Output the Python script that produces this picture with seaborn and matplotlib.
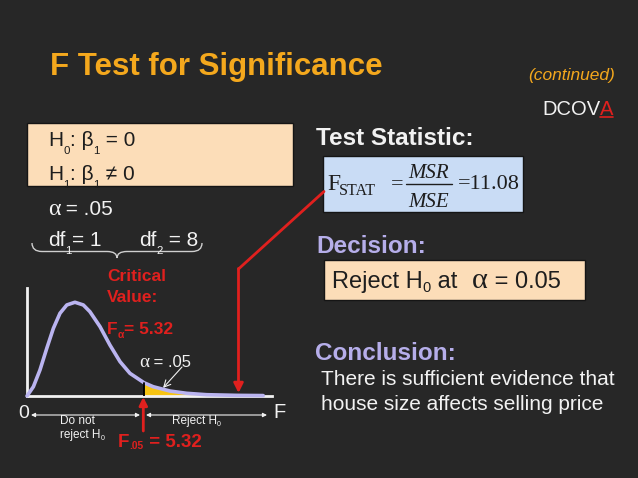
import numpy as np
import matplotlib
matplotlib.use('Agg')
import matplotlib.pyplot as plt
from matplotlib.patches import Rectangle, PathPatch
from matplotlib.path import Path
import seaborn as sns
import pandas as pd

# ---------------- data ----------------
curve_x = [0.0, 0.29, 0.59, 0.90, 1.20, 1.50, 1.81, 2.18, 2.56, 2.86, 3.32,
           3.77, 4.23, 4.68, 5.32, 5.74, 6.50, 7.26, 8.17, 9.53, 10.74]
curve_y = [0.0, 0.086, 0.241, 0.442, 0.627, 0.766, 0.843, 0.868, 0.843, 0.781, 0.642,
           0.472, 0.318, 0.210, 0.123, 0.086, 0.046, 0.025, 0.012, 0.006, 0.004]
f_crit = 5.32
alpha = 0.05
f_stat = 11.08
df1, df2 = 1, 8
x_max = 11.14

# ---------------- style ----------------
bg = '#272727'
orange = '#F4A81D'
red = '#E0201E'
lavender = '#B6AEEA'
curve_col = '#BAB4F0'
peach = '#FCDDB8'
blue_box = '#C9DCF5'
white = '#F2F2F2'
dark = '#1E1E1E'
yellow = '#F7C413'
serif = ['Liberation Serif', 'DejaVu Serif']

sns.set_theme(style='dark', rc={'figure.facecolor': bg, 'axes.facecolor': bg})
plt.rcParams['font.family'] = ['Liberation Sans', 'DejaVu Sans']

fig = plt.figure(figsize=(6.38, 4.78), dpi=100)
fig.patch.set_facecolor(bg)
renderer = fig.canvas.get_renderer()

ax = fig.add_axes([0, 0, 1, 1])
ax.set_xlim(0, 638)
ax.set_ylim(478, 0)
ax.axis('off')
ax.set_facecolor(bg)


def T(x, y, s, size, color=white, weight='normal', style='normal', ha='left',
      va='baseline', family=None):
    kw = {}
    if family is not None:
        kw['family'] = family
    return ax.text(x, y, s, fontsize=size, color=color, fontweight=weight,
                   fontstyle=style, ha=ha, va=va, **kw)


def runs(x, y, parts, size, color=white, weight='normal', sub_scale=0.55, sub_dy=0.36):
    """Draw text pieces one after another.
    kind 'n': normal, 's': subscript, 'a': serif greek letter."""
    for s, kind in parts:
        if kind == 's':
            t = T(x, y + sub_dy * size * 100 / 72, s, size * sub_scale, color, weight)
        elif kind == 'a':
            t = T(x, y, s, size * 1.15, color, 'normal', family=serif)
        else:
            t = T(x, y, s, size, color, weight)
        x += t.get_window_extent(renderer).width
    return x


# title area
T(50, 75, 'F Test for Significance', 22.5, orange, weight='bold')
T(615, 80, '(continued)', 12.5, orange, style='italic', ha='right')
T(600, 114.5, 'DCOV', 14.5, white, ha='right')
T(600, 114.5, 'A', 14.5, red, ha='left')
ax.plot([600, 613], [117, 117], color=red, lw=1.2)

# hypotheses box
ax.add_patch(Rectangle((27, 123), 266, 63, facecolor=peach, edgecolor='#151515', lw=1))
runs(48, 146, [('H', 'n'), ('0', 's'), (': β', 'n'), ('1', 's'), (' = 0', 'n')], 15, dark)
runs(48, 180.5, [('H', 'n'), ('1', 's'), (': β', 'n'), ('1', 's'), (' ≠ 0', 'n')], 15, dark)
runs(48, 215, [('α', 'a'), (' = ' + f'{alpha:.2f}'.replace('0.', '.'), 'n')], 15, white)
runs(48, 246, [('df', 'n'), ('1', 's'), (f'= {df1}', 'n')], 15, white)
runs(139, 246, [('df', 'n'), ('2', 's'), (f' = {df2}', 'n')], 15, white)

# brace
verts = [(32, 243), (32, 251.5), (42, 251.5), (107, 251.5), (117, 251.5), (117, 258),
         (117, 251.5), (127, 251.5), (192, 251.5), (202, 251.5), (202, 243)]
codes = [Path.MOVETO, Path.CURVE3, Path.CURVE3, Path.LINETO, Path.CURVE3, Path.CURVE3,
         Path.CURVE3, Path.CURVE3, Path.LINETO, Path.CURVE3, Path.CURVE3]
ax.add_patch(PathPatch(Path(verts, codes), facecolor='none', edgecolor='#CFCFCF', lw=1))

# critical value labels
T(107, 281, 'Critical', 12.5, red, weight='bold')
T(107, 301.5, 'Value:', 12.5, red, weight='bold')
runs(107, 334.5, [('F', 'n'), ('α', 's'), (f'= {f_crit:.2f}', 'n')], 12.5, red, 'bold',
     sub_scale=0.6, sub_dy=0.18)

# ---------------- F distribution inset ----------------
x0, x1, yb, yt = 27, 272, 396, 288
axc = fig.add_axes([x0 / 638, (478 - yb) / 478, (x1 - x0) / 638, (yb - yt) / 478])
axc.set_facecolor('none')
df = pd.DataFrame({'F': curve_x, 'density': curve_y})
tail = df[df['F'] >= f_crit]
axc.fill_between(tail['F'], 0, tail['density'], color=yellow, lw=0, zorder=1)
sns.lineplot(data=df, x='F', y='density', ax=axc, color=curve_col, lw=2.6,
             zorder=3, clip_on=False, sort=False)
y_crit = float(df.loc[df['F'] == f_crit, 'density'].iloc[0])
axc.plot([f_crit, f_crit], [0, y_crit], color='black', lw=1.3, zorder=4)
axc.set_xlim(0, x_max)
axc.set_ylim(0, 1)
axc.set_xticks([])
axc.set_yticks([])
axc.set_xlabel('')
axc.set_ylabel('')
for side in ['top', 'right']:
    axc.spines[side].set_visible(False)
for side in ['left', 'bottom']:
    axc.spines[side].set_visible(True)
    axc.spines[side].set_color(white)
    axc.spines[side].set_linewidth(2)
axc.grid(False)

# axis labels of inset
T(23.5, 418, '0', 14, white, ha='center')
T(273, 418, 'F', 14.5, white)

# alpha annotation
runs(139, 367, [('α', 'a'), (' = ' + f'{alpha:.2f}'.replace('0.', '.'), 'n')], 12, white)
ax.annotate('', xy=(163, 388), xytext=(182, 367),
            arrowprops=dict(arrowstyle='->', color=white, lw=0.8, shrinkA=0, shrinkB=0))

# region arrows
ax.annotate('', xy=(31, 415), xytext=(140, 415),
            arrowprops=dict(arrowstyle='<|-|>', color=white, lw=0.8, mutation_scale=6,
                            shrinkA=0, shrinkB=0))
ax.annotate('', xy=(146, 415), xytext=(267, 415),
            arrowprops=dict(arrowstyle='<|-|>', color=white, lw=0.8, mutation_scale=6,
                            shrinkA=0, shrinkB=0))
T(60, 424, 'Do not', 8.5, white)
runs(60, 438, [('reject H', 'n'), ('0', 's')], 8.5, white, sub_scale=0.6, sub_dy=0.2)
runs(172, 424, [('Reject H', 'n'), ('0', 's')], 8.5, white, sub_scale=0.6, sub_dy=0.2)

# critical value arrow and label
ax.annotate('', xy=(143.3, 397), xytext=(143.3, 431),
            arrowprops=dict(arrowstyle='-|>', color=red, lw=2, mutation_scale=12,
                            shrinkA=0, shrinkB=0))
runs(118, 447, [('F', 'n'), ('.05', 's'), (f' = {f_crit:.2f}', 'n')], 13.5, red, 'bold',
     sub_scale=0.55, sub_dy=0.12)

# red connector from F_STAT to the F axis
ax.plot([324, 238.5], [191.5, 269], color=red, lw=2, solid_capstyle='round')
ax.annotate('', xy=(238.5, 393), xytext=(238.5, 268.5),
            arrowprops=dict(arrowstyle='-|>', color=red, lw=2, mutation_scale=14,
                            shrinkA=0, shrinkB=0))

# ---------------- right column ----------------
T(316, 145, 'Test Statistic:', 17.5, white, weight='bold')
ax.add_patch(Rectangle((323, 156), 200, 56, facecolor=blue_box, edgecolor='#151515', lw=1))
T(327, 190.5, 'F', 17, dark, family=serif)
T(339, 195, 'STAT', 11.5, dark, family=serif)
T(391, 189, '=', 16, dark, family=serif)
T(429, 178, 'MSR', 15, dark, style='italic', family=serif, ha='center')
ax.plot([406, 452], [184, 184], color=dark, lw=1)
T(429, 207, 'MSE', 15, dark, style='italic', family=serif, ha='center')
T(458, 189, f'={f_stat:.2f}', 16, dark, family=serif)

T(316, 253, 'Decision:', 17.5, lavender, weight='bold')
ax.add_patch(Rectangle((324, 260), 261, 40, facecolor=peach, edgecolor='#151515', lw=1))
xr = runs(332, 288, [('Reject H', 'n'), ('0', 's'), (' at ', 'n')], 17, dark,
          sub_scale=0.62, sub_dy=0.16)
xr = runs(xr + 8, 288, [('α', 'a')], 19, dark)
runs(xr, 288, [(f' = {alpha:.2f}', 'n')], 17, dark)

T(315, 360, 'Conclusion:', 17.5, lavender, weight='bold')
T(321, 385, 'There is sufficient evidence that', 15, white)
T(321, 410, 'house size affects selling price', 15, white)

fig.savefig('out.png', dpi=100, facecolor=bg)
